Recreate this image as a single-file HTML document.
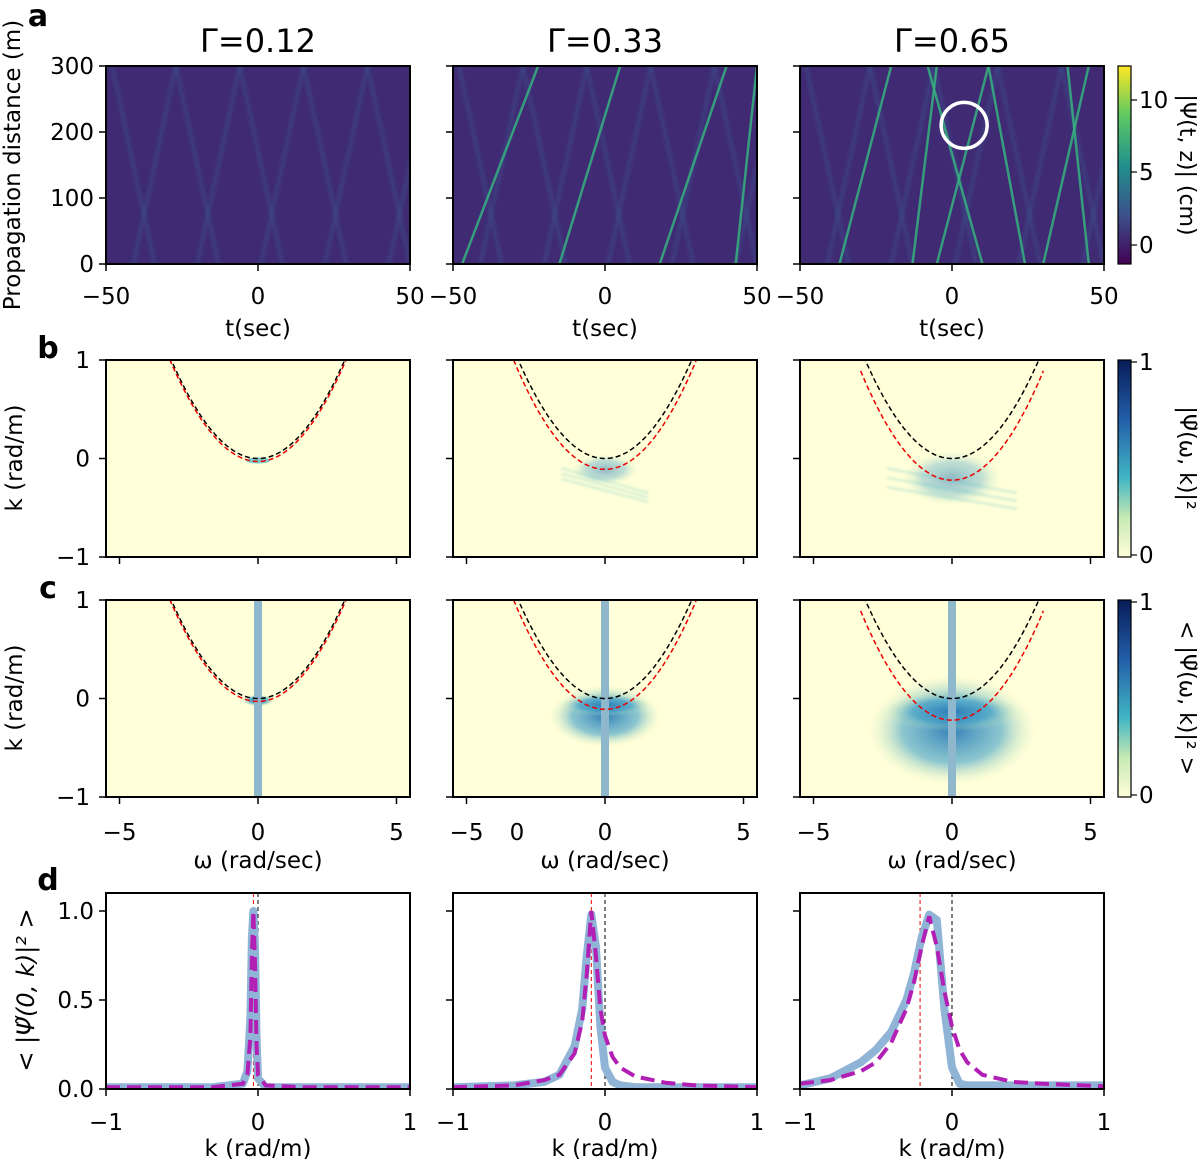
<!DOCTYPE html>
<html><head><meta charset="utf-8"><style>
body{margin:0;background:#fff;}
svg{display:block;font-family:"DejaVu Sans","Liberation Sans",sans-serif;}
</style></head><body>
<svg id="fig" width="1200" height="1159" viewBox="0 0 1200 1159">
<defs>
<linearGradient id="viridis" x1="0" y1="1" x2="0" y2="0">
<stop offset="0" stop-color="#440154"/><stop offset="0.25" stop-color="#3b528b"/><stop offset="0.5" stop-color="#21918c"/><stop offset="0.75" stop-color="#5ec962"/><stop offset="1" stop-color="#fde725"/></linearGradient>
<linearGradient id="ylgnbu" x1="0" y1="1" x2="0" y2="0">
<stop offset="0" stop-color="#ffffd9"/><stop offset="0.2" stop-color="#c7e9b4"/><stop offset="0.4" stop-color="#41b6c4"/><stop offset="0.7" stop-color="#225ea8"/><stop offset="1" stop-color="#081d58"/></linearGradient>
<radialGradient id="blob"><stop offset="0" stop-color="#2b7bb6" stop-opacity="0.95"/><stop offset="0.6" stop-color="#41a0c8" stop-opacity="0.6"/><stop offset="1" stop-color="#c7e9b4" stop-opacity="0"/></radialGradient>
<filter id="bl"><feGaussianBlur stdDeviation="1.2"/></filter>
</defs>
<g id="root"></g>
</svg>
<script>
// ---- data ----
const gammaLabels = ["Γ=0.12","Γ=0.33","Γ=0.65"];
const redShift = [0.03, 0.11, 0.22];
// soliton tracks in panel a: [t at z=0, t at z=300]
const tracks1 = [];
const tracks2 = [[-47,-22],[-15,5],[43,50],[18,40]];
const tracks3 = [[-37,-20],[-13,-5],[-5,12],[10,-8],[24,12],[30,45],[45,38]];
const tracksAll = [tracks1, tracks2, tracks3];
const blobW = [0.6, 2.0, 3.0];  // spectral spread width in omega (panel c)
const blobDepth = [0.05, 0.45, 0.8];
const dK1 = [-1,-0.3,-0.1,-0.07,-0.05,-0.04,-0.03,-0.02,-0.01,0,0.05,0.3,1];
const dP1 = [0.01,0.01,0.03,0.08,0.3,0.75,1.0,0.7,0.25,0.08,0.02,0.01,0.01];
const dB1 = [0.01,0.01,0.03,0.1,0.4,0.85,1.0,0.8,0.3,0.06,0.01,0.01,0.01];
const dK2 = [-1,-0.6,-0.4,-0.3,-0.2,-0.15,-0.12,-0.09,-0.06,-0.03,0,0.05,0.1,0.2,0.4,0.6,1];
const dP2 = [0.01,0.02,0.05,0.08,0.2,0.38,0.65,1.0,0.75,0.45,0.3,0.18,0.12,0.07,0.035,0.02,0.01];
const dB2 = [0.01,0.02,0.04,0.08,0.24,0.45,0.75,0.98,0.8,0.35,0.12,0.04,0.02,0.01,0.01,0.01,0.01];
const dK3 = [-1,-0.8,-0.6,-0.5,-0.4,-0.3,-0.25,-0.2,-0.15,-0.1,-0.05,0,0.05,0.1,0.2,0.4,0.6,1];
const dP3 = [0.03,0.05,0.1,0.15,0.26,0.45,0.6,0.8,0.97,0.8,0.55,0.35,0.22,0.15,0.08,0.04,0.03,0.015];
const dB3 = [0.02,0.06,0.15,0.22,0.32,0.5,0.65,0.85,0.98,0.95,0.45,0.12,0.03,0.02,0.02,0.02,0.02,0.02];
const dK = [dK1,dK2,dK3], dP=[dP1,dP2,dP3], dB=[dB1,dB2,dB3];
const peakK = [-0.03,-0.09,-0.21];
// ---- drawing ----
const NS="http://www.w3.org/2000/svg";
const root=document.getElementById('root');
function el(tag,attrs,parent,txt){const e=document.createElementNS(NS,tag);for(const k in attrs)e.setAttribute(k,attrs[k]);if(txt!==undefined)e.textContent=txt;(parent||root).appendChild(e);return e;}
const colX=[106,453,800], W=304;
const rowY={a:[66,264],b:[360,557],c:[600,797],d:[893,1089]};
function txt(x,y,s,size,anchor,name,extra){const t=el('text',Object.assign({x:x,y:y,'font-size':size,'text-anchor':anchor||'middle',fill:'#000'},extra||{}),root,s);return t;}
function frame(x,y0,y1,name){const r=el('rect',{x:x,y:y0,width:W,height:y1-y0,fill:'none',stroke:'#000','stroke-width':2});}
function tickX(x,y){el('line',{x1:x,y1:y,x2:x,y2:y+7,stroke:'#000','stroke-width':1.5});}
function tickY(x,y){el('line',{x1:x,y1:y,x2:x-7,y2:y,stroke:'#000','stroke-width':1.5});}
txt(38,26,'a',30,'middle','panel-label-a',{'font-weight':'bold'});
txt(48,358,'b',30,'middle','panel-label-b',{'font-weight':'bold'});
txt(48,598,'c',30,'middle','panel-label-c',{'font-weight':'bold'});
txt(48,890,'d',30,'middle','panel-label-d',{'font-weight':'bold'});
for(let c=0;c<3;c++){
  const x0=colX[c];
  // ---- row a ----
  const [ya0,ya1]=rowY.a;
  const tx=t=>x0+(t+50)/100*W, zy=z=>ya1-z/300*(ya1-ya0);
  const cpa=el('clipPath',{id:'cpa'+c});el('rect',{x:x0,y:ya0,width:W,height:ya1-ya0},cpa);
  const ga=el('g',{'clip-path':'url(#cpa'+c+')'});
  const bg=el('rect',{x:x0,y:ya0,width:W,height:ya1-ya0,fill:'#402a74'},ga);
  
  for(let i=0;i<16;i++){const t0=-55+i*7, t1=t0+((i%3)-1)*14;
    el('line',{x1:tx(t0),y1:zy(0),x2:tx(t1),y2:zy(300),stroke:'#3d5a90','stroke-width':5,'stroke-opacity':0.3,filter:'url(#bl)'},ga);}
  tracksAll[c].forEach(tr=>{const l=el('line',{x1:tx(tr[0]),y1:zy(0),x2:tx(tr[1]),y2:zy(300),stroke:'#35b27f','stroke-width':2.5,'stroke-opacity':0.85},ga);
    });
  if(c===2){const ci=el('circle',{cx:tx(4),cy:zy(210),r:23,fill:'none',stroke:'#fff','stroke-width':3.5},ga);
    }
  frame(x0,ya0,ya1,'panel-a-frame-'+(c+1));
  txt(x0+W/2,52,gammaLabels[c],32,'middle','column-title-'+(c+1));
  [-50,0,50].forEach(t=>{tickX(tx(t),ya1);txt(tx(t),304,t<0?'−50':String(t),23,'middle','a-x-tick');});
  txt(x0+W/2,336,'t(sec)',23,'middle','a-x-axis-title');
  [0,100,200,300].forEach(z=>{tickY(x0,zy(z));if(c===0)txt(x0-12,zy(z)+8,String(z),23,'end','a-y-tick');});
  // ---- rows b, c ----
  ['b','c'].forEach(r=>{
    const [y0,y1]=rowY[r];
    const ox=w=>x0+W/2+w*27.7, ky=k=>y0+(1-k)/2*(y1-y0);
    const cp=el('clipPath',{id:'cp'+r+c});el('rect',{x:x0,y:y0,width:W,height:y1-y0},cp);
    const inner=el('g',{'clip-path':'url(#cp'+r+c+')'});
    const bgb=el('rect',{x:x0,y:y0,width:W,height:y1-y0,fill:'#ffffd9'},inner);
    
    if(r==='c'){
      const bw=blobW[c], d=blobDepth[c];
      el('ellipse',{cx:ox(0),cy:ky(-d*0.4),rx:bw*27.7,ry:Math.max(6,d*0.7*98),fill:'url(#blob)'},inner);
      el('ellipse',{cx:ox(0),cy:ky(-redShift[c]*0.6),rx:bw*22,ry:Math.max(5,d*0.25*98),fill:'url(#blob)'},inner);
      const band=el('rect',{x:ox(0)-4,y:y0,width:8,height:y1-y0,fill:'#8fb8cc'},inner);
      
    } else if(c>0){
      const bw=blobW[c]*0.6, d=blobDepth[c];
      el('ellipse',{cx:ox(0),cy:ky(-d*0.25),rx:bw*27.7,ry:d*0.35*98,fill:'url(#blob)',opacity:0.55},inner);
      for(let j=0;j<3;j++)el('line',{x1:ox(-bw*1.3),y1:ky(-0.1-j*0.12*d),x2:ox(bw*1.3),y2:ky(-0.35-j*0.1*d),stroke:'#41b6c4','stroke-width':1.5,'stroke-opacity':0.35,filter:'url(#bl)'},inner);
    } else {
      el('ellipse',{cx:ox(0),cy:ky(-0.02),rx:12,ry:3,fill:'#41b6c4',opacity:0.7},inner);
    }
    let pb='',pr='';
    for(let w=-3.3;w<=3.31;w+=0.05){pb+=(pb?'L':'M')+ox(w).toFixed(1)+','+ky(w*w/9.81).toFixed(1);pr+=(pr?'L':'M')+ox(w).toFixed(1)+','+ky(w*w/9.81-redShift[c]).toFixed(1);}
    const p1=el('path',{d:pb,fill:'none',stroke:'#000','stroke-width':1.5,'stroke-dasharray':'5,3'},inner);
    
    const p2=el('path',{d:pr,fill:'none',stroke:'#e00','stroke-width':1.5,'stroke-dasharray':'5,3'},inner);
    
    frame(x0,y0,y1,'panel-'+r+'-frame-'+(c+1));
    [-5,0,5].forEach(w=>tickX(ox(w),y1));
    [1,0,-1].forEach(k=>{tickY(x0,ky(k));if(c===0)txt(x0-16,ky(k)+8,k<0?'−1':String(k),23,'end',r+'-y-tick');});
    if(r==='c'){
      [-5,0,5].forEach(w=>txt(ox(w),840,w<0?'−5':String(w),23,'middle','c-x-tick'));
      txt(x0+W/2,868,'ω  (rad/sec)',23,'middle','c-x-axis-title');
    }
  });
  // ---- row d ----
  const [yd0,yd1]=rowY.d;
  const kx=k=>x0+(k+1)/2*W, vy=v=>yd1-v*(yd1-yd0-18);
  const cpd=el('clipPath',{id:'cpd'+c});el('rect',{x:x0,y:yd0,width:W,height:yd1-yd0},cpd);
  const gd=el('g',{'clip-path':'url(#cpd'+c+')'});
  const vl0=el('line',{x1:kx(0),y1:yd0,x2:kx(0),y2:yd1,stroke:'#000','stroke-width':1,'stroke-dasharray':'4,3'},gd);
  
  const vlr=el('line',{x1:kx(peakK[c]),y1:yd0,x2:kx(peakK[c]),y2:yd1,stroke:'#e00','stroke-width':1,'stroke-dasharray':'4,3'},gd);
  
  const pathOf=(ks,vs)=>ks.map((k,i)=>(i?'L':'M')+kx(k).toFixed(1)+','+vy(vs[i]).toFixed(1)).join('');
  const lb=el('path',{d:pathOf(dK[c],dB[c]),fill:'none',stroke:'#8fb4d6','stroke-width':8,'stroke-linejoin':'round'},gd);
  
  const lp=el('path',{d:pathOf(dK[c],dP[c]),fill:'none',stroke:'#b21fb5','stroke-width':4,'stroke-dasharray':'14,7'},gd);
  
  frame(x0,yd0,yd1,'panel-d-frame-'+(c+1));
  [-1,0,1].forEach(k=>{tickX(kx(k),yd1);txt(kx(k),1130,k<0?'−1':String(k),23,'middle','d-x-tick');});
  txt(x0+W/2,1156,'k (rad/m)',23,'middle','d-x-axis-title');
  [0,0.5,1].forEach(v=>{tickY(x0,vy(v));if(c===0)txt(x0-12,vy(v)+8,v.toFixed(1),23,'end','d-y-tick');});
}
txt(20,165,'Propagation distance (m)',23,'middle','a-y-axis-title',{transform:'rotate(-90 20 165)'});
txt(22,458,'k (rad/m)',23,'middle','b-y-axis-title',{transform:'rotate(-90 22 458)'});
txt(22,698,'k (rad/m)',23,'middle','c-y-axis-title',{transform:'rotate(-90 22 698)'});
txt(34,990,'< |Ψ̃(0, k)|² >',24,'middle','d-y-axis-title',{transform:'rotate(-90 34 990)','font-style':'italic'});
txt(517,840,'0',23,'middle','c-extra-tick');
function cbar(y0,y1,grad,name,ticks,title,ty){
  const r=el('rect',{x:1118,y:y0,width:13,height:y1-y0,fill:'url(#'+grad+')',stroke:'#000','stroke-width':1.2});
  
  ticks.forEach(t=>{el('line',{x1:1131,y1:t[1],x2:1137,y2:t[1],stroke:'#000','stroke-width':1.2});txt(1139,t[1]+8,t[0],23,'start',name+'-tick');});
  txt(1180,ty,title,22,'middle',name+'-title',{transform:'rotate(90 1180 '+ty+')'});
}
cbar(66,264,'viridis','colorbar-a',[['0',245],['5',172],['10',100]],'|Ψ(t, z)| (cm)',165);
cbar(360,557,'ylgnbu','colorbar-b',[['1',362],['0',555]],'|Ψ̃(ω, k)|²',458);
cbar(600,797,'ylgnbu','colorbar-c',[['1',602],['0',795]],'< |Ψ̃(ω, k)|² >',698);
</script>
</body></html>
